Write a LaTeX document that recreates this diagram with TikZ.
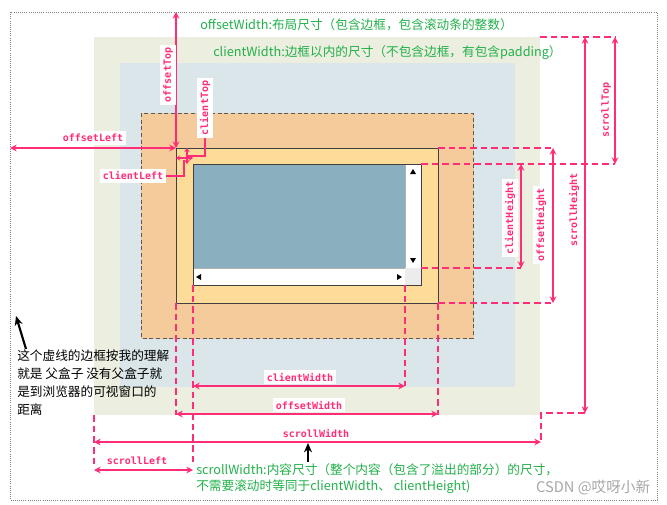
\documentclass[tikz,border=0pt]{standalone}
\usepackage{fontspec}
\setmainfont{Noto Sans CJK SC}
\newfontfamily\monof{DejaVu Sans Mono}
\usetikzlibrary{arrows.meta}
\definecolor{pk}{HTML}{FF2D78}
\definecolor{gr}{HTML}{22B04A}
\definecolor{olive}{HTML}{ECEEDF}
\definecolor{lblue}{HTML}{DAE6EA}
\definecolor{orng}{HTML}{F6CB9B}
\definecolor{yel}{HTML}{FDDB98}
\definecolor{slate}{HTML}{8AAFBF}
\tikzset{
 dim/.style={pk,line width=1.3pt,{Stealth[length=5pt,width=5pt]}-{Stealth[length=5pt,width=5pt]}},
 guide/.style={pk,line width=1.6pt,dash pattern=on 5pt off 3pt},
 lead/.style={pk,line width=0.8pt},
 lbl/.style={fill=white,text=pk,font=\monof\bfseries\fontsize{7.5}{8}\selectfont,inner sep=2pt},
 note/.style={text=gr,font=\fontsize{9.5}{11}\selectfont,anchor=west,inner sep=0pt},
 blk/.style={black,line width=1.6pt,-{Stealth[length=7pt,width=6pt]}},
 tri/.style={fill=black}
}
\begin{document}
\begin{tikzpicture}[x=0.75pt,y=-0.75pt]
\useasboundingbox (0,0) rectangle (667,504);
% frame
\draw[gray,densely dotted,line width=0.6pt] (10,12) rectangle (657,500);
% boxes
\fill[olive] (94,37) rectangle (540,415);
\fill[lblue] (120,63) rectangle (515,387);
\draw[orng!100,fill=orng] (141,113) rectangle (473,338);
\draw[gray!70!black,densely dashed,line width=0.5pt] (141,113) rectangle (473,338);
\draw[gray!50!black,fill=yel,line width=0.6pt] (176,148) rectangle (438,303);
\draw[gray!50!black,fill=white,line width=0.6pt] (193,164) rectangle (421,285);
\fill[slate] (193,164) rectangle (405,268);
\draw[gray!60,line width=0.4pt] (405,164) -- (405,285) (193,268) -- (421,268);
\fill[gray!15] (405,268) rectangle (421,285);
\draw[gray!50!black,line width=0.6pt] (193,164) rectangle (421,285);
\fill[tri] (410,174) -- (416,174) -- (413,169) -- cycle;
\fill[tri] (410,258) -- (416,258) -- (413,263) -- cycle;
\fill[tri] (201,274) -- (201,280) -- (196,277) -- cycle;
\fill[tri] (397,274) -- (397,280) -- (402,277) -- cycle;
% coordinates
\coordinate (fl) at (10,148); \coordinate (ft) at (176,12);
\coordinate (ytl) at (176,148); \coordinate (itl) at (193,164);
% guides right
\draw[guide] (421,164) -- (615,164);
\draw[guide] (438,148) -- (553,148);
\draw[guide] (540,37) -- (615,37);
\draw[guide] (421,268) -- (521,268);
\draw[guide] (438,303) -- (553,303);
\draw[guide] (541,440) -- (541,413) -- (585,413);
% guides bottom
\draw[guide] (176,303) -- (176,415);
\draw[guide] (438,303) -- (438,415);
\draw[guide] (193,285) -- (193,465);
\draw[guide] (405,285) -- (405,386);
\draw[guide] (94,415) -- (94,465);
% left/top dims
\draw[dim] (fl) -- (ytl);
\draw[dim] (ft) -- (ytl);
\node[lbl] (oL) at (93,138) {offsetLeft};
\node[lbl,rotate=90] (oT) at (168,75) {offsetTop};
\draw[pk,line width=1pt,{Stealth[length=3pt,width=4pt]}-{Stealth[length=3pt,width=4pt]}] (176,158) -- (193,158);
\draw[pk,line width=1pt,{Stealth[length=3pt,width=4pt]}-{Stealth[length=3pt,width=4pt]}] (187,148) -- (187,164);
\node[lbl,rotate=90] (cT) at (205,108) {clientTop};
\draw[lead] (187,156) -- (205,156) -- (cT.west);
\node[lbl] (cL) at (133,176) {clientLeft};
\draw[lead] (cL.east) -- (184,176) -- (184,160);
% right dims
\draw[dim] (615,37) -- (615,164);
\node[lbl,rotate=90] at (606,110) {scrollTop};
\draw[dim] (585,37) -- (585,413);
\node[lbl,rotate=90] at (574,210) {scrollHeight};
\draw[dim] (553,148) -- (553,303);
\node[lbl,rotate=90] at (541,225) {offsetHeight};
\draw[dim] (521,164) -- (521,268);
\node[lbl,rotate=90] at (510,218) {clientHeight};
% bottom dims
\draw[dim] (193,386) -- (405,386);
\node[lbl] at (300,377) {clientWidth};
\draw[dim] (176,414) -- (438,414);
\node[lbl] at (309,405) {offsetWidth};
\draw[dim] (94,442) -- (541,442);
\node[lbl] at (316,433) {scrollWidth};
\draw[dim] (94,470) -- (193,470);
\node[lbl] at (137,461) {scrollLeft};
% notes
\node[note] at (200,25) {offsetWidth:布局尺寸（包含边框，包含滚动条的整数）};
\node[note] at (213,53) {clientWidth:边框以内的尺寸（不包含边框，有包含padding）};
\node[note] at (196,470) {scrollWidth:内容尺寸（整个内容（包含了溢出的部分）的尺寸，};
\node[note] at (196,487) {不需要滚动时等同于clientWidth、 clientHeight)};
\draw[blk] (308,462) -- (308,443);
\draw[blk] (26,349) -- (16,316);
\node[anchor=north west,align=left,inner sep=0pt,font=\fontsize{9.5}{13.5}\selectfont] at (17,350) {这个虚线的边框按我的理解\\就是 父盒子 没有父盒子就\\是到浏览器的可视窗口的\\距离};
\node[text=gray!70,font=\fontsize{11}{12}\selectfont,anchor=east] at (655,488) {CSDN @哎呀小新};
\end{tikzpicture}
\end{document}
